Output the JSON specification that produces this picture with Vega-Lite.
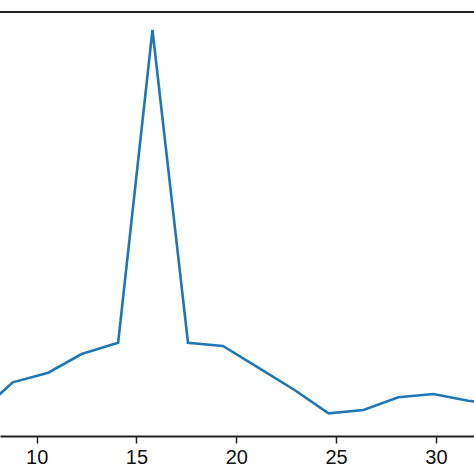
{
  "$schema": "https://vega.github.io/schema/vega-lite/v6.json",
  "autosize": {"type": "none"},
  "width": 474,
  "height": 424,
  "padding": {"top": 12, "left": 0, "right": 0, "bottom": 38},
  "config": {"view": {"stroke": null}},
  "data": {"values": [
    {"x": 7.05, "y": 22},
    {"x": 8.8, "y": 53.7},
    {"x": 10.58, "y": 63.3},
    {"x": 12.25, "y": 82},
    {"x": 14.08, "y": 93.3},
    {"x": 15.8, "y": 406},
    {"x": 17.58, "y": 93.3},
    {"x": 19.33, "y": 90},
    {"x": 21.08, "y": 68.7},
    {"x": 22.92, "y": 46},
    {"x": 24.62, "y": 22.7},
    {"x": 26.37, "y": 26},
    {"x": 28.12, "y": 38.7},
    {"x": 29.87, "y": 42},
    {"x": 31.62, "y": 35.3},
    {"x": 33.37, "y": 31}
  ]},
  "layer": [
    {
      "mark": {"type": "line", "color": "#1f77b4", "strokeWidth": 2.6, "clip": true},
      "encoding": {
        "x": {
          "field": "x", "type": "quantitative",
          "scale": {"domain": [8.161, 31.91], "nice": false, "zero": false},
          "axis": {
            "title": null, "values": [10, 15, 20, 25, 30], "grid": false,
            "domainColor": "#222222", "domainWidth": 2, "tickColor": "#222222", "tickWidth": 1.5,
            "tickSize": 7, "labelPadding": 4, "labelFont": "Liberation Sans",
            "labelFontSize": 20, "labelColor": "#111111", "labelFlush": false, "labelOverlap": false
          }
        },
        "y": {
          "field": "y", "type": "quantitative",
          "scale": {"domain": [0, 424], "nice": false, "zero": false},
          "axis": null
        }
      }
    },
    {
      "mark": {"type": "rule", "color": "#222222", "strokeWidth": 2},
      "encoding": {"y": {"datum": 424}}
    }
  ]
}
